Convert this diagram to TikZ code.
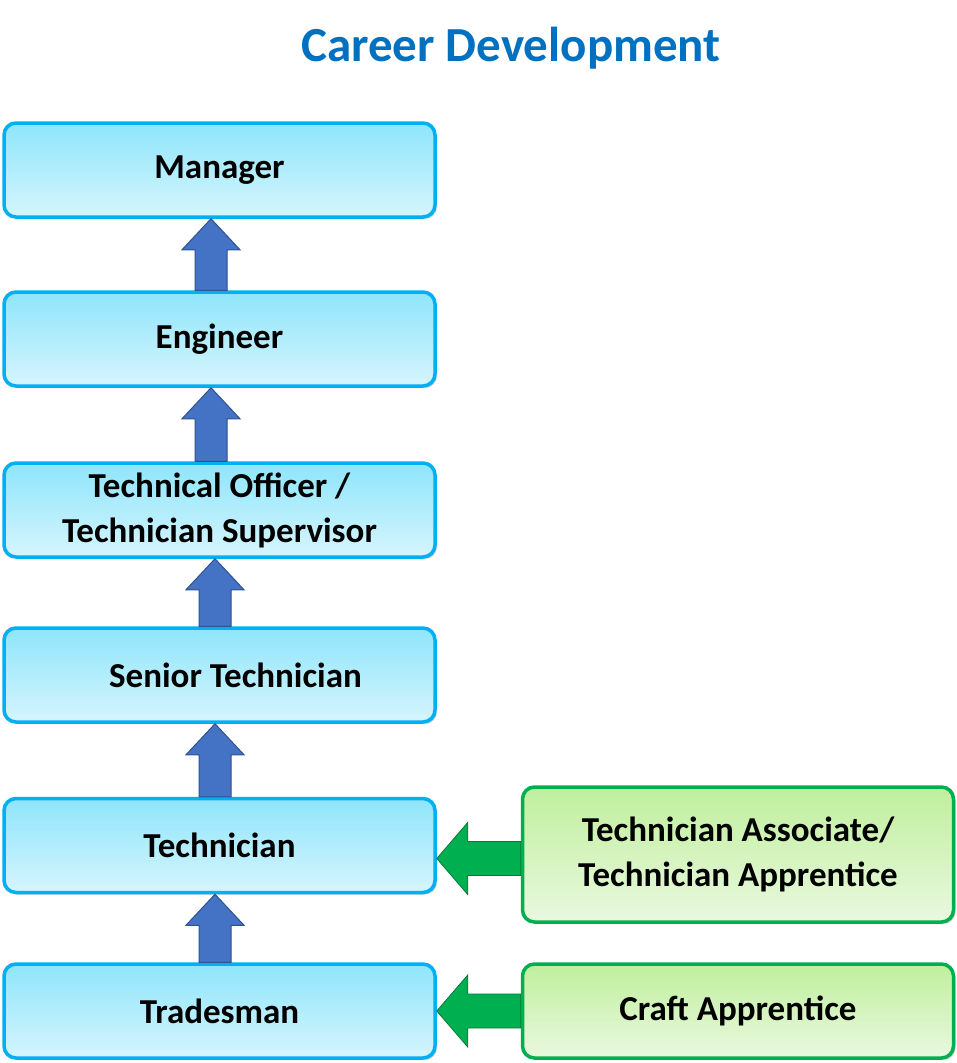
\documentclass[tikz,border=0pt]{standalone}
\usepackage{fontspec}
\setmainfont{Carlito}
\usetikzlibrary{calc,shadows}
\definecolor{bborder}{HTML}{00B0F0}
\definecolor{btop}{HTML}{8EE5FB}
\definecolor{bbot}{HTML}{D6F5FD}
\definecolor{gborder}{HTML}{00B050}
\definecolor{gtop}{HTML}{BFEF9C}
\definecolor{gbot}{HTML}{EAF8E0}
\definecolor{arrblue}{HTML}{4472C4}
\definecolor{arrblueb}{HTML}{2F528F}
\definecolor{titleblue}{HTML}{0070C0}
\tikzset{
 box/.style={rounded corners=12pt, line width=3.5pt, top color=btop, bottom color=bbot, draw=bborder,
   minimum width=431pt, minimum height=94pt, align=center, inner sep=0pt,
   font=\fontsize{35}{45}\selectfont\bfseries, drop shadow={shadow xshift=2pt,shadow yshift=-2pt,opacity=0.35}},
 gbox/.style={box, top color=gtop, bottom color=gbot, draw=gborder},
 uparr/.style={fill=arrblue, draw=arrblueb, line width=1pt},
 larr/.style={fill=gborder, draw=gborder!70!black, line width=0.8pt},
}
% #1 lower node, #2 upper node, #3 x position (pt)
\newcommand\myUp[3]{\draw[uparr] let \p1=(#1.north), \p2=(#2.south) in
  (#3pt-16pt,\y1) -- (#3pt-16pt,\y2-31pt) -- (#3pt-29pt,\y2-31pt) -- (#3pt,\y2) -- (#3pt+29pt,\y2-31pt)
  -- (#3pt+16pt,\y2-31pt) -- (#3pt+16pt,\y1) -- cycle;}
% #1 target node, #2 source node, #3 y offset (pt, upward)
\newcommand\myLeft[3]{\draw[larr] let \p1=(#1.east), \p2=(#2.west) in
  (\x2,\y1+#3pt+17pt) -- (\x1+31pt,\y1+#3pt+17pt) -- (\x1+31pt,\y1+#3pt+36pt) -- (\x1,\y1+#3pt)
  -- (\x1+31pt,\y1+#3pt-36pt) -- (\x1+31pt,\y1+#3pt-17pt) -- (\x2,\y1+#3pt-17pt) -- cycle;}
\begin{document}
\begin{tikzpicture}[x=1pt,y=-1pt]
\useasboundingbox (0,0) rectangle (957,1063);
\node[font=\fontsize{49}{56}\selectfont\bfseries, text=titleblue] (title) at (511,48) {Career Development};
\node[box] (man) at (219.5,170) {Manager};
\node[box] (eng) at (219.5,339) {Engineer};
\node[box] (tof) at (219.5,510) {Technical Officer /\\Technician Supervisor};
\node[box] (sen) at (219.5,675) {\hspace*{32pt}Senior Technician};
\node[box] (tec) at (219.5,845.5) {Technician};
\node[box] (trd) at (219.5,1011) {Tradesman};
\node[gbox, minimum height=135pt] (ta) at (738,854.5) {Technician Associate/\\Technician Apprentice};
\node[gbox] (ca) at (738,1011) {Craft Apprentice};
\myUp{eng}{man}{211}
\myUp{tof}{eng}{211}
\myUp{sen}{tof}{215}
\myUp{tec}{sen}{215}
\myUp{trd}{tec}{215}
\myLeft{tec}{ta}{-13}
\myLeft{trd}{ca}{0}
\end{tikzpicture}
\end{document}
